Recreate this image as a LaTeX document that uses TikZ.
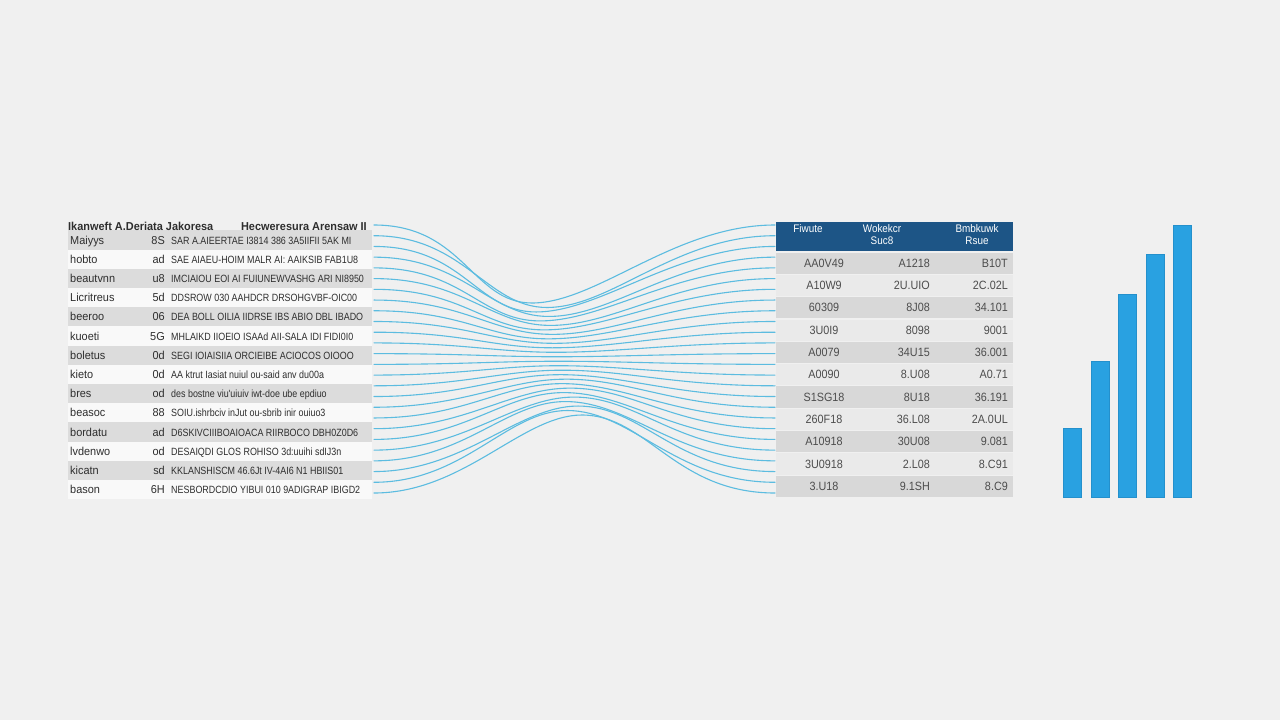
\documentclass[tikz,border=0pt]{standalone}
\usepackage{fontspec}
\setmainfont{Liberation Sans}
\newfontfamily\narrowsans[FakeStretch=0.85]{Liberation Sans}
\newfontfamily\wsans[FakeStretch=0.95]{Liberation Sans}
\newfontfamily\midsans[FakeStretch=0.9]{Liberation Sans}
\usetikzlibrary{calc}
\definecolor{bg}{HTML}{F0F0F0}
\definecolor{flowblue}{HTML}{5CBCE0}
\definecolor{hdrblue}{HTML}{1D5586}
\definecolor{barblue}{HTML}{29A1E1}
\definecolor{baredge}{HTML}{2490CC}
\definecolor{rowgray}{HTML}{DCDCDC}
\definecolor{rowlight}{HTML}{F9F9F9}
\definecolor{rrowgray}{HTML}{D8D8D8}
\definecolor{rrowlight}{HTML}{EAEAEA}
\definecolor{txt}{HTML}{2E2E2E}
\tikzset{
  lcell/.style={font=\narrowsans\fontsize{10.5}{13}\selectfont, text=txt, inner sep=0pt},
  lname/.style={font=\wsans\fontsize{11.5}{13}\selectfont, text=txt, inner sep=0pt},
  lhead/.style={font=\wsans\bfseries\fontsize{11.5}{13}\selectfont, text=txt, inner sep=0pt},
  rcell/.style={font=\midsans\fontsize{12}{14}\selectfont, text=txt!85, inner sep=0pt},
  rhead/.style={font=\midsans\fontsize{11}{12.5}\selectfont, text=white, inner sep=0pt, align=center},
  flow/.style={draw=flowblue, line width=1.1pt, line cap=round},
  bar/.style={fill=barblue, draw=baredge, line width=0.6pt}
}
\begin{document}
\begin{tikzpicture}[x=1pt,y=-1pt]
\fill[bg] (0,0) rectangle (1280,720);
\useasboundingbox (0,0) rectangle (1280,720);

% ---------- left table ----------
\foreach \n/\c/\s [count=\k from 0] in {
  Maiyys/8S/{SAR A.AIEERTAE I3814 386 3A5IIFII 5AK MI},
  hobto/ad/{SAE AIAEU-HOIM MALR AI: AAIKSIB FAB1U8},
  beautvnn/u8/{IMCIAIOU EOI AI FUIUNEWVASHG ARI NI8950},
  Licritreus/5d/{DDSROW 030 AAHDCR DRSOHGVBF-OIC00},
  beeroo/06/{DEA BOLL OILIA IIDRSE IBS ABIO DBL IBADO},
  kuoeti/5G/{MHLAIKD IIOEIO ISAAd AII-SALA IDI FIDI0I0},
  boletus/0d/{SEGI IOIAISIIA ORCIEIBE ACIOCOS OIOOO},
  kieto/0d/{AA ktrut Iasiat nuiul ou-said anv du00a},
  bres/od/{des bostne viu'uiuiv iwt-doe ube epdiuo},
  beasoc/88/{SOIU.ishrbciv inJut ou-sbrib inir ouiuo3},
  bordatu/ad/{D6SKIVCIIIBOAIOACA RIIRBOCO DBH0Z0D6},
  lvdenwo/od/{DESAIQDI GLOS ROHISO 3d:uuihi sdIJ3n},
  kicatn/sd/{KKLANSHISCM 46.6Jt IV-4AI6 N1 HBIIS01},
  bason/6H/{NESBORDCDIO YIBUI 010 9ADIGRAP IBIGD2}} {
  \pgfmathsetmacro\yc{240+19.2*\k}
  \pgfmathtruncatemacro\odd{mod(\k,2)}
  \ifnum\odd=0 \def\rc{rowgray}\else\def\rc{rowlight}\fi
  \fill[\rc] (68,\yc-9.6) rectangle (372,\yc+9.6);
  \node[lname, anchor=base west] (ln\k) at (70,\yc+4) {\n};
  \node[lname, anchor=base east] (lc\k) at (165,\yc+4) {\c};
  \node[lcell, anchor=base west] (ls\k) at (171,\yc+4) {\s};
}
\node[lhead, anchor=base west] (lh1) at (68,230.5) {Ikanweft A.Deriata Jakoresa};
\node[lhead, anchor=base east] (lh2) at (367,230.5) {Hecweresura Arensaw II};

% ---------- flow lines ----------
\foreach \i in {0,...,25} {
  \pgfmathsetmacro\yy{225+\i*10.72}
  \coordinate (L\i) at (374,\yy);
  \coordinate (R\i) at (775,\yy);
}
\foreach \i in {0,...,25} {
  \pgfmathsetmacro\t{(\i-12.5)/12.5}
  \pgfmathsetmacro\alt{2*mod(\i,2)-1}
  \pgfmathsetmacro\ym{359+\t*56}
  \pgfmathsetmacro\xm{557+18*\t+7*\alt*abs(\t)}
  \draw[flow] (L\i) .. controls +(90,0) and (\xm-60,\ym) .. (\xm,\ym)
              .. controls (\xm+65,\ym) and +(-100,0) .. (R\i);
}

% ---------- right table ----------
\fill[hdrblue] (776,222) rectangle (1013,251);
\node[rhead, anchor=north] (rh1) at (808,224) {Fiwute};
\node[rhead, anchor=north] (rh2) at (882,224) {Wokekcr\\Suc8};
\node[rhead, anchor=north] (rh3) at (977,224) {Bmbkuwk\\Rsue};
\foreach \a/\b/\c [count=\k from 0] in {
  AA0V49/A1218/B10T,
  A10W9/2U.UIO/2C.02L,
  60309/8J08/34.101,
  3U0I9/8098/9001,
  A0079/34U15/36.001,
  A0090/8.U08/A0.71,
  S1SG18/8U18/36.191,
  260F18/36.L08/2A.0UL,
  A10918/30U08/9.081,
  3U0918/2.L08/8.C91,
  3.U18/9.1SH/8.C9} {
  \pgfmathsetmacro\yc{263.2+22.3*\k}
  \pgfmathtruncatemacro\odd{mod(\k,2)}
  \ifnum\odd=0 \def\rc{rrowgray}\else\def\rc{rrowlight}\fi
  \fill[\rc] (776,\yc-10.6) rectangle (1013,\yc+10.6);
  \node[rcell] (ra\k) at (824,\yc) {\a};
  \node[rcell, anchor=east] (rb\k) at (930,\yc) {\b};
  \node[rcell, anchor=east] (rc\k) at (1008,\yc) {\c};
}

% ---------- bar chart ----------
\fill[bar] (1063,428) rectangle (1081,497);
\fill[bar] (1091,361) rectangle (1109,497);
\fill[bar] (1118,294) rectangle (1136,497);
\fill[bar] (1146,254) rectangle (1164,497);
\fill[bar] (1173,225) rectangle (1191,497);
\end{tikzpicture}
\end{document}
